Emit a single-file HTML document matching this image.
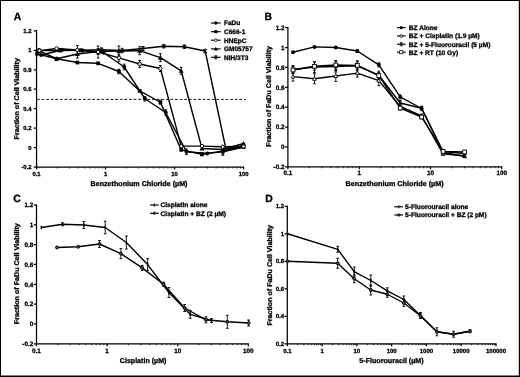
<!DOCTYPE html>
<html><head><meta charset="utf-8"><title>Figure</title>
<style>html,body{margin:0;padding:0;background:#fff}svg{display:block}</style>
</head><body>
<svg width="520" height="377" viewBox="0 0 520 377" font-family="Liberation Sans, Arial, Helvetica, sans-serif" font-weight="bold" fill="#000" text-rendering="geometricPrecision">
<rect x="0" y="0" width="520" height="377" fill="#fff"/>
<path d="M0 0H520V377H0Z M1 1V375.6H518.8V1Z" fill="#000" fill-rule="evenodd"/>
<text x="13.70" y="20.30" font-size="10.4" text-anchor="start" stroke="#000" stroke-width="0.3">A</text>
<text x="264.60" y="20.10" font-size="10.4" text-anchor="start" stroke="#000" stroke-width="0.3">B</text>
<text x="13.20" y="201.80" font-size="10.4" text-anchor="start" stroke="#000" stroke-width="0.3">C</text>
<text x="265.20" y="201.90" font-size="10.4" text-anchor="start" stroke="#000" stroke-width="0.3">D</text>
<path d="M36.55 30.34V167.06H244.05" fill="none" stroke="#000" stroke-width="1.25"/>
<path d="M33.75 30.84H36.55M33.75 50.30H36.55M33.75 69.76H36.55M33.75 89.22H36.55M33.75 108.68H36.55M33.75 128.14H36.55M33.75 147.60H36.55M33.75 167.06H36.55M36.55 167.06V169.56M105.55 167.06V169.56M174.55 167.06V169.56M243.55 167.06V169.56" fill="none" stroke="#000" stroke-width="1.25"/>
<path d="M57.32 167.06V168.56M69.47 167.06V168.56M78.09 167.06V168.56M84.78 167.06V168.56M90.24 167.06V168.56M94.86 167.06V168.56M98.86 167.06V168.56M102.39 167.06V168.56M126.32 167.06V168.56M138.47 167.06V168.56M147.09 167.06V168.56M153.78 167.06V168.56M159.24 167.06V168.56M163.86 167.06V168.56M167.86 167.06V168.56M171.39 167.06V168.56M195.32 167.06V168.56M207.47 167.06V168.56M216.09 167.06V168.56M222.78 167.06V168.56M228.24 167.06V168.56M232.86 167.06V168.56M236.86 167.06V168.56M240.39 167.06V168.56" fill="none" stroke="#000" stroke-width="0.8"/>
<text x="31.55" y="32.95" font-size="5.9" text-anchor="end" stroke="#000" stroke-width="0.3">1.2</text>
<text x="31.55" y="52.41" font-size="5.9" text-anchor="end" stroke="#000" stroke-width="0.3">1</text>
<text x="31.55" y="71.87" font-size="5.9" text-anchor="end" stroke="#000" stroke-width="0.3">0.8</text>
<text x="31.55" y="91.33" font-size="5.9" text-anchor="end" stroke="#000" stroke-width="0.3">0.6</text>
<text x="31.55" y="110.79" font-size="5.9" text-anchor="end" stroke="#000" stroke-width="0.3">0.4</text>
<text x="31.55" y="130.25" font-size="5.9" text-anchor="end" stroke="#000" stroke-width="0.3">0.2</text>
<text x="31.55" y="149.71" font-size="5.9" text-anchor="end" stroke="#000" stroke-width="0.3">0</text>
<text x="31.55" y="169.17" font-size="5.9" text-anchor="end" stroke="#000" stroke-width="0.3">-0.2</text>
<text x="36.55" y="176.20" font-size="5.9" text-anchor="middle" stroke="#000" stroke-width="0.3">0.1</text>
<text x="105.55" y="176.20" font-size="5.9" text-anchor="middle" stroke="#000" stroke-width="0.3">1</text>
<text x="174.55" y="176.20" font-size="5.9" text-anchor="middle" stroke="#000" stroke-width="0.3">10</text>
<text x="243.55" y="176.20" font-size="5.9" text-anchor="middle" stroke="#000" stroke-width="0.3">100</text>
<path d="M37 99.4H246" stroke="#000" stroke-width="0.9" stroke-dasharray="2.8 1.8" fill="none"/>
<text x="19.00" y="139.40" font-size="6.9" text-anchor="start" stroke="#000" stroke-width="0.3" textLength="81.30" lengthAdjust="spacingAndGlyphs" transform="rotate(-90 19.00 139.40)">Fraction of Cell Viability</text>
<text x="90.50" y="185.80" font-size="7.1" text-anchor="start" stroke="#000" stroke-width="0.3" textLength="97.00" lengthAdjust="spacingAndGlyphs">Benzethonium Chloride (µM)</text>
<path d="M37.00 53.75L56.60 58.75L77.40 62.50L98.10 63.30L118.90 71.50L139.70 90.90L160.40 102.25L181.20 149.90L202.00 154.25L222.70 151.10L243.50 147.00" fill="none" stroke="#000" stroke-width="1.4" stroke-linejoin="round"/>
<path d="M118.90 69.30V73.70M117.50 69.30H120.30M117.50 73.70H120.30" stroke="#000" stroke-width="0.9" fill="none"/>
<path d="M160.40 100.25V104.25M159.00 100.25H161.80M159.00 104.25H161.80" stroke="#000" stroke-width="0.9" fill="none"/>
<path d="M202.00 152.75V155.75M200.60 152.75H203.40M200.60 155.75H203.40" stroke="#000" stroke-width="0.9" fill="none"/>
<path d="M222.70 148.10V154.10M221.30 148.10H224.10M221.30 154.10H224.10" stroke="#000" stroke-width="0.9" fill="none"/>
<rect x="35.15" y="51.90" width="3.7" height="3.7"/>
<rect x="54.75" y="56.90" width="3.7" height="3.7"/>
<rect x="75.55" y="60.65" width="3.7" height="3.7"/>
<rect x="96.25" y="61.45" width="3.7" height="3.7"/>
<rect x="117.05" y="69.65" width="3.7" height="3.7"/>
<rect x="137.85" y="89.05" width="3.7" height="3.7"/>
<rect x="158.55" y="100.40" width="3.7" height="3.7"/>
<rect x="179.35" y="148.05" width="3.7" height="3.7"/>
<rect x="200.15" y="152.40" width="3.7" height="3.7"/>
<rect x="220.85" y="149.25" width="3.7" height="3.7"/>
<rect x="241.65" y="145.15" width="3.7" height="3.7"/>
<path d="M41.10 55.00L61.90 50.00L82.60 50.60L103.40 52.50L124.20 67.00L144.90 98.75L165.70 112.50L186.50 151.75L207.25 153.40L222.90 151.80L243.50 147.00" fill="none" stroke="#000" stroke-width="1.4" stroke-linejoin="round"/>
<path d="M124.20 64.20V69.80M122.80 64.20H125.60M122.80 69.80H125.60" stroke="#000" stroke-width="0.9" fill="none"/>
<path d="M144.90 96.55V100.95M143.50 96.55H146.30M143.50 100.95H146.30" stroke="#000" stroke-width="0.9" fill="none"/>
<path d="M165.70 109.70V115.30M164.30 109.70H167.10M164.30 115.30H167.10" stroke="#000" stroke-width="0.9" fill="none"/>
<path d="M186.50 148.95V154.55M185.10 148.95H187.90M185.10 154.55H187.90" stroke="#000" stroke-width="0.9" fill="none"/>
<path d="M222.90 148.30V155.30M221.50 148.30H224.30M221.50 155.30H224.30" stroke="#000" stroke-width="0.9" fill="none"/>
<circle cx="41.10" cy="55.00" r="2.0"/>
<circle cx="61.90" cy="50.00" r="2.0"/>
<circle cx="82.60" cy="50.60" r="2.0"/>
<circle cx="103.40" cy="52.50" r="2.0"/>
<circle cx="124.20" cy="67.00" r="2.0"/>
<circle cx="144.90" cy="98.75" r="2.0"/>
<circle cx="165.70" cy="112.50" r="2.0"/>
<circle cx="186.50" cy="151.75" r="2.0"/>
<circle cx="207.25" cy="153.40" r="2.0"/>
<circle cx="222.90" cy="151.80" r="2.0"/>
<circle cx="243.50" cy="147.00" r="2.0"/>
<path d="M38.60 50.60L56.60 58.75L77.40 54.00L98.10 51.50L118.90 51.00L139.70 50.70L160.40 57.70L181.20 70.80L202.00 148.50L222.70 149.50L243.50 143.50" fill="none" stroke="#000" stroke-width="1.4" stroke-linejoin="round"/>
<path d="M77.40 50.00V58.00M76.00 50.00H78.80M76.00 58.00H78.80" stroke="#000" stroke-width="0.9" fill="none"/>
<path d="M98.10 48.50V54.50M96.70 48.50H99.50M96.70 54.50H99.50" stroke="#000" stroke-width="0.9" fill="none"/>
<path d="M118.90 46.00V56.00M117.50 46.00H120.30M117.50 56.00H120.30" stroke="#000" stroke-width="0.9" fill="none"/>
<path d="M139.70 46.70V54.70M138.30 46.70H141.10M138.30 54.70H141.10" stroke="#000" stroke-width="0.9" fill="none"/>
<path d="M160.40 53.70V61.70M159.00 53.70H161.80M159.00 61.70H161.80" stroke="#000" stroke-width="0.9" fill="none"/>
<path d="M181.20 67.30V74.30M179.80 67.30H182.60M179.80 74.30H182.60" stroke="#000" stroke-width="0.9" fill="none"/>
<path d="M38.60 48.00L41.07 52.55L36.13 52.55Z"/>
<path d="M56.60 56.15L59.07 60.70L54.13 60.70Z"/>
<path d="M77.40 51.40L79.87 55.95L74.93 55.95Z"/>
<path d="M98.10 48.90L100.57 53.45L95.63 53.45Z"/>
<path d="M118.90 48.40L121.37 52.95L116.43 52.95Z"/>
<path d="M139.70 48.10L142.17 52.65L137.23 52.65Z"/>
<path d="M160.40 55.10L162.87 59.65L157.93 59.65Z"/>
<path d="M181.20 68.20L183.67 72.75L178.73 72.75Z"/>
<path d="M202.00 145.90L204.47 150.45L199.53 150.45Z"/>
<path d="M222.70 146.90L225.17 151.45L220.23 151.45Z"/>
<path d="M243.50 140.90L245.97 145.45L241.03 145.45Z"/>
<path d="M39.10 50.60L59.90 50.50L80.60 50.30L101.40 49.80L122.20 50.50L142.90 48.50L163.70 46.20L184.50 46.70L205.20 51.00L226.00 149.50L243.50 145.50" fill="none" stroke="#000" stroke-width="1.4" stroke-linejoin="round"/>
<path d="M39.10 48.60V52.60M37.70 48.60H40.50M37.70 52.60H40.50" stroke="#000" stroke-width="0.9" fill="none"/>
<path d="M59.90 49.00V52.00M58.50 49.00H61.30M58.50 52.00H61.30" stroke="#000" stroke-width="0.9" fill="none"/>
<path d="M80.60 48.80V51.80M79.20 48.80H82.00M79.20 51.80H82.00" stroke="#000" stroke-width="0.9" fill="none"/>
<path d="M101.40 47.80V51.80M100.00 47.80H102.80M100.00 51.80H102.80" stroke="#000" stroke-width="0.9" fill="none"/>
<path d="M122.20 48.30V52.70M120.80 48.30H123.60M120.80 52.70H123.60" stroke="#000" stroke-width="0.9" fill="none"/>
<path d="M142.90 46.50V50.50M141.50 46.50H144.30M141.50 50.50H144.30" stroke="#000" stroke-width="0.9" fill="none"/>
<path d="M163.70 44.40V48.00M162.30 44.40H165.10M162.30 48.00H165.10" stroke="#000" stroke-width="0.9" fill="none"/>
<path d="M184.50 44.90V48.50M183.10 44.90H185.90M183.10 48.50H185.90" stroke="#000" stroke-width="0.9" fill="none"/>
<path d="M205.20 49.20V52.80M203.80 49.20H206.60M203.80 52.80H206.60" stroke="#000" stroke-width="0.9" fill="none"/>
<path d="M226.00 148.00V151.00M224.60 148.00H227.40M224.60 151.00H227.40" stroke="#000" stroke-width="0.9" fill="none"/>
<path d="M243.50 144.00V147.00M242.10 144.00H244.90M242.10 147.00H244.90" stroke="#000" stroke-width="0.9" fill="none"/>
<path d="M37.40 48.90L40.80 52.30M37.40 52.30L40.80 48.90" stroke="#000" stroke-width="1" fill="none"/>
<path d="M58.20 48.80L61.60 52.20M58.20 52.20L61.60 48.80" stroke="#000" stroke-width="1" fill="none"/>
<path d="M78.90 48.60L82.30 52.00M78.90 52.00L82.30 48.60" stroke="#000" stroke-width="1" fill="none"/>
<path d="M99.70 48.10L103.10 51.50M99.70 51.50L103.10 48.10" stroke="#000" stroke-width="1" fill="none"/>
<path d="M120.50 48.80L123.90 52.20M120.50 52.20L123.90 48.80" stroke="#000" stroke-width="1" fill="none"/>
<path d="M141.20 46.80L144.60 50.20M141.20 50.20L144.60 46.80" stroke="#000" stroke-width="1" fill="none"/>
<path d="M162.00 44.50L165.40 47.90M162.00 47.90L165.40 44.50" stroke="#000" stroke-width="1" fill="none"/>
<path d="M182.80 45.00L186.20 48.40M182.80 48.40L186.20 45.00" stroke="#000" stroke-width="1" fill="none"/>
<path d="M203.50 49.30L206.90 52.70M203.50 52.70L206.90 49.30" stroke="#000" stroke-width="1" fill="none"/>
<path d="M224.30 147.80L227.70 151.20M224.30 151.20L227.70 147.80" stroke="#000" stroke-width="1" fill="none"/>
<path d="M241.80 143.80L245.20 147.20M241.80 147.20L245.20 143.80" stroke="#000" stroke-width="1" fill="none"/>
<path d="M39.40 50.60L56.60 48.50L77.40 50.00L98.10 52.00L118.90 57.80L139.70 64.00L160.40 68.50L181.20 146.10L202.00 146.10L222.70 146.75L243.50 146.50" fill="none" stroke="#000" stroke-width="1.4" stroke-linejoin="round"/>
<path d="M77.40 45.50V54.50M76.00 45.50H78.80M76.00 54.50H78.80" stroke="#000" stroke-width="0.9" fill="none"/>
<path d="M98.10 46.00V58.00M96.70 46.00H99.50M96.70 58.00H99.50" stroke="#000" stroke-width="0.9" fill="none"/>
<path d="M118.90 54.30V61.30M117.50 54.30H120.30M117.50 61.30H120.30" stroke="#000" stroke-width="0.9" fill="none"/>
<path d="M139.70 60.50V67.50M138.30 60.50H141.10M138.30 67.50H141.10" stroke="#000" stroke-width="0.9" fill="none"/>
<path d="M160.40 65.50V71.50M159.00 65.50H161.80M159.00 71.50H161.80" stroke="#000" stroke-width="0.9" fill="none"/>
<circle cx="39.40" cy="50.60" r="1.7" fill="#fff" stroke="#000" stroke-width="1"/>
<circle cx="56.60" cy="48.50" r="1.7" fill="#fff" stroke="#000" stroke-width="1"/>
<circle cx="77.40" cy="50.00" r="1.7" fill="#fff" stroke="#000" stroke-width="1"/>
<circle cx="98.10" cy="52.00" r="1.7" fill="#fff" stroke="#000" stroke-width="1"/>
<circle cx="118.90" cy="57.80" r="1.7" fill="#fff" stroke="#000" stroke-width="1"/>
<circle cx="139.70" cy="64.00" r="1.7" fill="#fff" stroke="#000" stroke-width="1"/>
<circle cx="160.40" cy="68.50" r="1.7" fill="#fff" stroke="#000" stroke-width="1"/>
<circle cx="181.20" cy="146.10" r="1.7" fill="#fff" stroke="#000" stroke-width="1"/>
<circle cx="202.00" cy="146.10" r="1.7" fill="#fff" stroke="#000" stroke-width="1"/>
<circle cx="222.70" cy="146.75" r="1.7" fill="#fff" stroke="#000" stroke-width="1"/>
<circle cx="243.50" cy="146.50" r="1.7" fill="#fff" stroke="#000" stroke-width="1"/>
<path d="M211 23H220.7" stroke="#000" stroke-width="1.15"/>
<g transform="translate(215.8 23) scale(0.82) translate(-215.8 -23)">
<circle cx="215.80" cy="23.00" r="2.0"/>
</g>
<text x="224.00" y="25.40" font-size="6.6" text-anchor="start" stroke="#000" stroke-width="0.3" textLength="16.25" lengthAdjust="spacingAndGlyphs">FaDu</text>
<path d="M211 31.7H220.7" stroke="#000" stroke-width="1.15"/>
<g transform="translate(215.8 31.7) scale(0.82) translate(-215.8 -31.7)">
<rect x="213.95" y="29.85" width="3.7" height="3.7"/>
</g>
<text x="224.00" y="34.10" font-size="6.6" text-anchor="start" stroke="#000" stroke-width="0.3" textLength="21.30" lengthAdjust="spacingAndGlyphs">C666-1</text>
<path d="M211 40.2H220.7" stroke="#000" stroke-width="1.15"/>
<g transform="translate(215.8 40.2) scale(0.82) translate(-215.8 -40.2)">
<circle cx="215.80" cy="40.20" r="1.7" fill="#fff" stroke="#000" stroke-width="1"/>
</g>
<text x="224.00" y="42.60" font-size="6.6" text-anchor="start" stroke="#000" stroke-width="0.3" textLength="22.40" lengthAdjust="spacingAndGlyphs">HNEpC</text>
<path d="M211 48.9H220.7" stroke="#000" stroke-width="1.15"/>
<g transform="translate(215.8 48.9) scale(0.82) translate(-215.8 -48.9)">
<path d="M215.80 46.30L218.27 50.85L213.33 50.85Z"/>
</g>
<text x="224.00" y="51.30" font-size="6.6" text-anchor="start" stroke="#000" stroke-width="0.3" textLength="28.50" lengthAdjust="spacingAndGlyphs">GM05757</text>
<path d="M211 57.3H220.7" stroke="#000" stroke-width="1.15"/>
<g transform="translate(215.8 57.3) scale(0.82) translate(-215.8 -57.3)">
<path d="M215.80 55.30V59.30M214.40 55.30H217.20M214.40 59.30H217.20" stroke="#000" stroke-width="0.9" fill="none"/>
<path d="M214.10 55.60L217.50 59.00M214.10 59.00L217.50 55.60" stroke="#000" stroke-width="1" fill="none"/>
</g>
<text x="224.00" y="59.70" font-size="6.6" text-anchor="start" stroke="#000" stroke-width="0.3" textLength="24.30" lengthAdjust="spacingAndGlyphs">NIH/3T3</text>
<path d="M287.90 27.12V166.78H502.24" fill="none" stroke="#000" stroke-width="1.25"/>
<path d="M285.10 27.62H287.90M285.10 47.50H287.90M285.10 67.38H287.90M285.10 87.26H287.90M285.10 107.14H287.90M285.10 127.02H287.90M285.10 146.90H287.90M285.10 166.78H287.90M287.90 166.78V169.28M359.18 166.78V169.28M430.46 166.78V169.28M501.74 166.78V169.28" fill="none" stroke="#000" stroke-width="1.25"/>
<path d="M309.36 166.78V168.28M321.91 166.78V168.28M330.81 166.78V168.28M337.72 166.78V168.28M343.37 166.78V168.28M348.14 166.78V168.28M352.27 166.78V168.28M355.92 166.78V168.28M380.64 166.78V168.28M393.19 166.78V168.28M402.09 166.78V168.28M409.00 166.78V168.28M414.65 166.78V168.28M419.42 166.78V168.28M423.55 166.78V168.28M427.20 166.78V168.28M451.92 166.78V168.28M464.47 166.78V168.28M473.37 166.78V168.28M480.28 166.78V168.28M485.93 166.78V168.28M490.70 166.78V168.28M494.83 166.78V168.28M498.48 166.78V168.28" fill="none" stroke="#000" stroke-width="0.8"/>
<text x="284.40" y="29.88" font-size="6.3" text-anchor="end" stroke="#000" stroke-width="0.3">1.2</text>
<text x="284.40" y="49.76" font-size="6.3" text-anchor="end" stroke="#000" stroke-width="0.3">1</text>
<text x="284.40" y="69.64" font-size="6.3" text-anchor="end" stroke="#000" stroke-width="0.3">0.8</text>
<text x="284.40" y="89.52" font-size="6.3" text-anchor="end" stroke="#000" stroke-width="0.3">0.6</text>
<text x="284.40" y="109.40" font-size="6.3" text-anchor="end" stroke="#000" stroke-width="0.3">0.4</text>
<text x="284.40" y="129.28" font-size="6.3" text-anchor="end" stroke="#000" stroke-width="0.3">0.2</text>
<text x="284.40" y="149.16" font-size="6.3" text-anchor="end" stroke="#000" stroke-width="0.3">0</text>
<text x="284.40" y="169.04" font-size="6.3" text-anchor="end" stroke="#000" stroke-width="0.3">-0.2</text>
<text x="287.90" y="175.40" font-size="6.3" text-anchor="middle" stroke="#000" stroke-width="0.3">0.1</text>
<text x="359.18" y="175.40" font-size="6.3" text-anchor="middle" stroke="#000" stroke-width="0.3">1</text>
<text x="430.46" y="175.40" font-size="6.3" text-anchor="middle" stroke="#000" stroke-width="0.3">10</text>
<text x="501.74" y="175.40" font-size="6.3" text-anchor="middle" stroke="#000" stroke-width="0.3">100</text>
<text x="271.40" y="146.70" font-size="6.9" text-anchor="start" stroke="#000" stroke-width="0.3" textLength="100.70" lengthAdjust="spacingAndGlyphs" transform="rotate(-90 271.40 146.70)">Fraction of FaDu Cell Viability</text>
<text x="345.50" y="185.70" font-size="7.1" text-anchor="start" stroke="#000" stroke-width="0.3" textLength="98.20" lengthAdjust="spacingAndGlyphs">Benzethonium Chloride (µM)</text>
<path d="M293.00 52.30L314.50 46.90L335.80 47.50L357.30 51.00L378.80 64.80L400.20 96.90L421.60 108.50L443.10 151.50L464.60 153.50" fill="none" stroke="#000" stroke-width="1.4" stroke-linejoin="round"/>
<path d="M357.30 49.50V52.50M355.90 49.50H358.70M355.90 52.50H358.70" stroke="#000" stroke-width="0.9" fill="none"/>
<path d="M378.80 62.80V66.80M377.40 62.80H380.20M377.40 66.80H380.20" stroke="#000" stroke-width="0.9" fill="none"/>
<path d="M400.20 94.90V98.90M398.80 94.90H401.60M398.80 98.90H401.60" stroke="#000" stroke-width="0.9" fill="none"/>
<path d="M421.60 107.00V110.00M420.20 107.00H423.00M420.20 110.00H423.00" stroke="#000" stroke-width="0.9" fill="none"/>
<path d="M443.10 150.00V153.00M441.70 150.00H444.50M441.70 153.00H444.50" stroke="#000" stroke-width="0.9" fill="none"/>
<path d="M464.60 152.00V155.00M463.20 152.00H466.00M463.20 155.00H466.00" stroke="#000" stroke-width="0.9" fill="none"/>
<circle cx="293.00" cy="52.30" r="2.0"/>
<circle cx="314.50" cy="46.90" r="2.0"/>
<circle cx="335.80" cy="47.50" r="2.0"/>
<circle cx="357.30" cy="51.00" r="2.0"/>
<circle cx="378.80" cy="64.80" r="2.0"/>
<circle cx="400.20" cy="96.90" r="2.0"/>
<circle cx="421.60" cy="108.50" r="2.0"/>
<circle cx="443.10" cy="151.50" r="2.0"/>
<circle cx="464.60" cy="153.50" r="2.0"/>
<path d="M293.00 76.60L314.50 78.80L335.80 76.00L357.30 73.10L378.80 80.60L400.20 106.50L421.60 116.00L443.10 153.80L464.60 156.00" fill="none" stroke="#000" stroke-width="1.4" stroke-linejoin="round"/>
<path d="M293.00 72.10V81.10M291.60 72.10H294.40M291.60 81.10H294.40" stroke="#000" stroke-width="0.9" fill="none"/>
<path d="M314.50 73.80V83.80M313.10 73.80H315.90M313.10 83.80H315.90" stroke="#000" stroke-width="0.9" fill="none"/>
<path d="M335.80 70.50V81.50M334.40 70.50H337.20M334.40 81.50H337.20" stroke="#000" stroke-width="0.9" fill="none"/>
<path d="M357.30 69.10V77.10M355.90 69.10H358.70M355.90 77.10H358.70" stroke="#000" stroke-width="0.9" fill="none"/>
<path d="M378.80 75.60V85.60M377.40 75.60H380.20M377.40 85.60H380.20" stroke="#000" stroke-width="0.9" fill="none"/>
<path d="M400.20 104.00V109.00M398.80 104.00H401.60M398.80 109.00H401.60" stroke="#000" stroke-width="0.9" fill="none"/>
<path d="M421.60 114.00V118.00M420.20 114.00H423.00M420.20 118.00H423.00" stroke="#000" stroke-width="0.9" fill="none"/>
<path d="M443.10 152.30V155.30M441.70 152.30H444.50M441.70 155.30H444.50" stroke="#000" stroke-width="0.9" fill="none"/>
<path d="M464.60 154.50V157.50M463.20 154.50H466.00M463.20 157.50H466.00" stroke="#000" stroke-width="0.9" fill="none"/>
<path d="M293.00 74.60L294.90 78.10L291.10 78.10Z" fill="#fff" stroke="#000" stroke-width="0.8"/>
<path d="M314.50 76.80L316.40 80.30L312.60 80.30Z" fill="#fff" stroke="#000" stroke-width="0.8"/>
<path d="M335.80 74.00L337.70 77.50L333.90 77.50Z" fill="#fff" stroke="#000" stroke-width="0.8"/>
<path d="M357.30 71.10L359.20 74.60L355.40 74.60Z" fill="#fff" stroke="#000" stroke-width="0.8"/>
<path d="M378.80 78.60L380.70 82.10L376.90 82.10Z" fill="#fff" stroke="#000" stroke-width="0.8"/>
<path d="M400.20 104.50L402.10 108.00L398.30 108.00Z" fill="#fff" stroke="#000" stroke-width="0.8"/>
<path d="M421.60 114.00L423.50 117.50L419.70 117.50Z" fill="#fff" stroke="#000" stroke-width="0.8"/>
<path d="M443.10 151.80L445.00 155.30L441.20 155.30Z" fill="#fff" stroke="#000" stroke-width="0.8"/>
<path d="M464.60 154.00L466.50 157.50L462.70 157.50Z" fill="#fff" stroke="#000" stroke-width="0.8"/>
<path d="M293.00 69.50L314.50 67.00L335.80 66.50L357.30 65.80L378.80 75.20L400.20 103.00L421.60 108.20L443.10 152.50L464.60 156.20" fill="none" stroke="#000" stroke-width="1.4" stroke-linejoin="round"/>
<path d="M293.00 65.50V73.50M291.60 65.50H294.40M291.60 73.50H294.40" stroke="#000" stroke-width="0.9" fill="none"/>
<path d="M314.50 61.50V72.50M313.10 61.50H315.90M313.10 72.50H315.90" stroke="#000" stroke-width="0.9" fill="none"/>
<path d="M335.80 61.00V72.00M334.40 61.00H337.20M334.40 72.00H337.20" stroke="#000" stroke-width="0.9" fill="none"/>
<path d="M357.30 60.80V70.80M355.90 60.80H358.70M355.90 70.80H358.70" stroke="#000" stroke-width="0.9" fill="none"/>
<path d="M378.80 71.20V79.20M377.40 71.20H380.20M377.40 79.20H380.20" stroke="#000" stroke-width="0.9" fill="none"/>
<path d="M400.20 100.50V105.50M398.80 100.50H401.60M398.80 105.50H401.60" stroke="#000" stroke-width="0.9" fill="none"/>
<path d="M421.60 106.20V110.20M420.20 106.20H423.00M420.20 110.20H423.00" stroke="#000" stroke-width="0.9" fill="none"/>
<path d="M443.10 151.00V154.00M441.70 151.00H444.50M441.70 154.00H444.50" stroke="#000" stroke-width="0.9" fill="none"/>
<path d="M464.60 154.70V157.70M463.20 154.70H466.00M463.20 157.70H466.00" stroke="#000" stroke-width="0.9" fill="none"/>
<path d="M291.30 67.80L294.70 71.20M291.30 71.20L294.70 67.80" stroke="#000" stroke-width="1" fill="none"/>
<path d="M312.80 65.30L316.20 68.70M312.80 68.70L316.20 65.30" stroke="#000" stroke-width="1" fill="none"/>
<path d="M334.10 64.80L337.50 68.20M334.10 68.20L337.50 64.80" stroke="#000" stroke-width="1" fill="none"/>
<path d="M355.60 64.10L359.00 67.50M355.60 67.50L359.00 64.10" stroke="#000" stroke-width="1" fill="none"/>
<path d="M377.10 73.50L380.50 76.90M377.10 76.90L380.50 73.50" stroke="#000" stroke-width="1" fill="none"/>
<path d="M398.50 101.30L401.90 104.70M398.50 104.70L401.90 101.30" stroke="#000" stroke-width="1" fill="none"/>
<path d="M419.90 106.50L423.30 109.90M419.90 109.90L423.30 106.50" stroke="#000" stroke-width="1" fill="none"/>
<path d="M441.40 150.80L444.80 154.20M441.40 154.20L444.80 150.80" stroke="#000" stroke-width="1" fill="none"/>
<path d="M462.90 154.50L466.30 157.90M462.90 157.90L466.30 154.50" stroke="#000" stroke-width="1" fill="none"/>
<path d="M293.00 70.00L314.50 66.30L335.80 65.00L357.30 65.40L378.80 75.60L400.20 108.10L421.60 117.00L443.10 151.40L464.60 152.00" fill="none" stroke="#000" stroke-width="1.4" stroke-linejoin="round"/>
<path d="M293.00 66.50V73.50M291.60 66.50H294.40M291.60 73.50H294.40" stroke="#000" stroke-width="0.9" fill="none"/>
<path d="M314.50 62.30V70.30M313.10 62.30H315.90M313.10 70.30H315.90" stroke="#000" stroke-width="0.9" fill="none"/>
<path d="M335.80 60.50V69.50M334.40 60.50H337.20M334.40 69.50H337.20" stroke="#000" stroke-width="0.9" fill="none"/>
<path d="M357.30 61.40V69.40M355.90 61.40H358.70M355.90 69.40H358.70" stroke="#000" stroke-width="0.9" fill="none"/>
<path d="M378.80 72.60V78.60M377.40 72.60H380.20M377.40 78.60H380.20" stroke="#000" stroke-width="0.9" fill="none"/>
<path d="M400.20 106.10V110.10M398.80 106.10H401.60M398.80 110.10H401.60" stroke="#000" stroke-width="0.9" fill="none"/>
<path d="M421.60 115.00V119.00M420.20 115.00H423.00M420.20 119.00H423.00" stroke="#000" stroke-width="0.9" fill="none"/>
<path d="M443.10 149.90V152.90M441.70 149.90H444.50M441.70 152.90H444.50" stroke="#000" stroke-width="0.9" fill="none"/>
<path d="M464.60 150.50V153.50M463.20 150.50H466.00M463.20 153.50H466.00" stroke="#000" stroke-width="0.9" fill="none"/>
<rect x="291.10" y="68.10" width="3.8" height="3.8" fill="#fff" stroke="#000" stroke-width="0.9"/>
<rect x="312.60" y="64.40" width="3.8" height="3.8" fill="#fff" stroke="#000" stroke-width="0.9"/>
<rect x="333.90" y="63.10" width="3.8" height="3.8" fill="#fff" stroke="#000" stroke-width="0.9"/>
<rect x="355.40" y="63.50" width="3.8" height="3.8" fill="#fff" stroke="#000" stroke-width="0.9"/>
<rect x="376.90" y="73.70" width="3.8" height="3.8" fill="#fff" stroke="#000" stroke-width="0.9"/>
<rect x="398.30" y="106.20" width="3.8" height="3.8" fill="#fff" stroke="#000" stroke-width="0.9"/>
<rect x="419.70" y="115.10" width="3.8" height="3.8" fill="#fff" stroke="#000" stroke-width="0.9"/>
<rect x="441.20" y="149.50" width="3.8" height="3.8" fill="#fff" stroke="#000" stroke-width="0.9"/>
<rect x="462.70" y="150.10" width="3.8" height="3.8" fill="#fff" stroke="#000" stroke-width="0.9"/>
<path d="M397 27.6H405.6" stroke="#000" stroke-width="1.15"/>
<g transform="translate(401.3 27.6) scale(0.82) translate(-401.3 -27.6)">
<circle cx="401.30" cy="27.60" r="2.0"/>
</g>
<text x="408.80" y="30.00" font-size="6.6" text-anchor="start" stroke="#000" stroke-width="0.3" textLength="28.70" lengthAdjust="spacingAndGlyphs">BZ Alone</text>
<path d="M397 35.9H405.6" stroke="#000" stroke-width="1.15"/>
<g transform="translate(401.3 35.9) scale(0.82) translate(-401.3 -35.9)">
<path d="M401.30 33.90L403.20 37.40L399.40 37.40Z" fill="#fff" stroke="#000" stroke-width="0.8"/>
</g>
<text x="408.80" y="38.30" font-size="6.6" text-anchor="start" stroke="#000" stroke-width="0.3" textLength="70.90" lengthAdjust="spacingAndGlyphs">BZ + Cisplatin (1.9 µM)</text>
<path d="M397 44.2H405.6" stroke="#000" stroke-width="1.15"/>
<g transform="translate(401.3 44.2) scale(0.82) translate(-401.3 -44.2)">
<path d="M401.30 42.20V46.20M399.90 42.20H402.70M399.90 46.20H402.70" stroke="#000" stroke-width="0.9" fill="none"/>
<path d="M399.60 42.50L403.00 45.90M399.60 45.90L403.00 42.50" stroke="#000" stroke-width="1" fill="none"/>
</g>
<text x="408.80" y="46.60" font-size="6.6" text-anchor="start" stroke="#000" stroke-width="0.3" textLength="81.60" lengthAdjust="spacingAndGlyphs">BZ + 5-Fluorouracil (5 µM)</text>
<path d="M397 52.2H405.6" stroke="#000" stroke-width="1.15"/>
<g transform="translate(401.3 52.2) scale(0.82) translate(-401.3 -52.2)">
<rect x="399.40" y="50.30" width="3.8" height="3.8" fill="#fff" stroke="#000" stroke-width="0.9"/>
</g>
<text x="408.80" y="54.60" font-size="6.6" text-anchor="start" stroke="#000" stroke-width="0.3" textLength="49.30" lengthAdjust="spacingAndGlyphs">BZ + RT (10 Gy)</text>
<path d="M36.50 204.51V343.75H248.80" fill="none" stroke="#000" stroke-width="1.25"/>
<path d="M33.70 205.01H36.50M33.70 224.83H36.50M33.70 244.65H36.50M33.70 264.47H36.50M33.70 284.29H36.50M33.70 304.11H36.50M33.70 323.93H36.50M33.70 343.75H36.50M36.50 343.75V346.25M107.10 343.75V346.25M177.70 343.75V346.25M248.30 343.75V346.25" fill="none" stroke="#000" stroke-width="1.25"/>
<path d="M57.75 343.75V345.25M70.18 343.75V345.25M79.01 343.75V345.25M85.85 343.75V345.25M91.44 343.75V345.25M96.16 343.75V345.25M100.26 343.75V345.25M103.87 343.75V345.25M128.35 343.75V345.25M140.78 343.75V345.25M149.61 343.75V345.25M156.45 343.75V345.25M162.04 343.75V345.25M166.76 343.75V345.25M170.86 343.75V345.25M174.47 343.75V345.25M198.95 343.75V345.25M211.38 343.75V345.25M220.21 343.75V345.25M227.05 343.75V345.25M232.64 343.75V345.25M237.36 343.75V345.25M241.46 343.75V345.25M245.07 343.75V345.25" fill="none" stroke="#000" stroke-width="0.8"/>
<text x="33.20" y="207.27" font-size="6.3" text-anchor="end" stroke="#000" stroke-width="0.3">1.2</text>
<text x="33.20" y="227.09" font-size="6.3" text-anchor="end" stroke="#000" stroke-width="0.3">1</text>
<text x="33.20" y="246.91" font-size="6.3" text-anchor="end" stroke="#000" stroke-width="0.3">0.8</text>
<text x="33.20" y="266.73" font-size="6.3" text-anchor="end" stroke="#000" stroke-width="0.3">0.6</text>
<text x="33.20" y="286.55" font-size="6.3" text-anchor="end" stroke="#000" stroke-width="0.3">0.4</text>
<text x="33.20" y="306.37" font-size="6.3" text-anchor="end" stroke="#000" stroke-width="0.3">0.2</text>
<text x="33.20" y="326.19" font-size="6.3" text-anchor="end" stroke="#000" stroke-width="0.3">0</text>
<text x="33.20" y="346.01" font-size="6.3" text-anchor="end" stroke="#000" stroke-width="0.3">-0.2</text>
<text x="36.50" y="352.70" font-size="6.3" text-anchor="middle" stroke="#000" stroke-width="0.3">0.1</text>
<text x="107.10" y="352.70" font-size="6.3" text-anchor="middle" stroke="#000" stroke-width="0.3">1</text>
<text x="177.70" y="352.70" font-size="6.3" text-anchor="middle" stroke="#000" stroke-width="0.3">10</text>
<text x="248.30" y="352.70" font-size="6.3" text-anchor="middle" stroke="#000" stroke-width="0.3">100</text>
<text x="19.40" y="324.20" font-size="6.9" text-anchor="start" stroke="#000" stroke-width="0.3" textLength="101.00" lengthAdjust="spacingAndGlyphs" transform="rotate(-90 19.40 324.20)">Fraction of FaDu Cell Viability</text>
<text x="119.80" y="362.80" font-size="7.1" text-anchor="start" stroke="#000" stroke-width="0.3" textLength="46.60" lengthAdjust="spacingAndGlyphs">Cisplatin (µM)</text>
<path d="M41.25 227.50L62.50 224.30L83.80 225.00L105.20 227.50L126.40 242.50L147.60 264.60L168.90 292.50L190.20 314.30L211.50 320.50" fill="none" stroke="#000" stroke-width="1.4" stroke-linejoin="round"/>
<path d="M62.50 222.80V225.80M61.10 222.80H63.90M61.10 225.80H63.90" stroke="#000" stroke-width="0.9" fill="none"/>
<path d="M83.80 221.50V228.50M82.40 221.50H85.20M82.40 228.50H85.20" stroke="#000" stroke-width="0.9" fill="none"/>
<path d="M105.20 221.20V233.80M103.80 221.20H106.60M103.80 233.80H106.60" stroke="#000" stroke-width="0.9" fill="none"/>
<path d="M126.40 236.00V249.00M125.00 236.00H127.80M125.00 249.00H127.80" stroke="#000" stroke-width="0.9" fill="none"/>
<path d="M147.60 258.60V270.60M146.20 258.60H149.00M146.20 270.60H149.00" stroke="#000" stroke-width="0.9" fill="none"/>
<path d="M168.90 287.50V297.50M167.50 287.50H170.30M167.50 297.50H170.30" stroke="#000" stroke-width="0.9" fill="none"/>
<path d="M190.20 310.30V318.30M188.80 310.30H191.60M188.80 318.30H191.60" stroke="#000" stroke-width="0.9" fill="none"/>
<path d="M211.50 318.50V322.50M210.10 318.50H212.90M210.10 322.50H212.90" stroke="#000" stroke-width="0.9" fill="none"/>
<path d="M41.25 225.70V229.30" stroke="#000" stroke-width="1.3" fill="none"/>
<path d="M62.50 222.50V226.10" stroke="#000" stroke-width="1.3" fill="none"/>
<path d="M83.80 223.20V226.80" stroke="#000" stroke-width="1.3" fill="none"/>
<path d="M105.20 225.70V229.30" stroke="#000" stroke-width="1.3" fill="none"/>
<path d="M126.40 240.70V244.30" stroke="#000" stroke-width="1.3" fill="none"/>
<path d="M147.60 262.80V266.40" stroke="#000" stroke-width="1.3" fill="none"/>
<path d="M168.90 290.70V294.30" stroke="#000" stroke-width="1.3" fill="none"/>
<path d="M190.20 312.50V316.10" stroke="#000" stroke-width="1.3" fill="none"/>
<path d="M211.50 318.70V322.30" stroke="#000" stroke-width="1.3" fill="none"/>
<path d="M57.00 247.50L78.25 246.80L99.50 244.00L120.90 253.60L142.20 267.90L163.50 284.20L184.60 308.00L206.00 319.80L227.30 321.80L248.60 323.00" fill="none" stroke="#000" stroke-width="1.4" stroke-linejoin="round"/>
<path d="M99.50 240.50V247.50M98.10 240.50H100.90M98.10 247.50H100.90" stroke="#000" stroke-width="0.9" fill="none"/>
<path d="M120.90 248.60V258.60M119.50 248.60H122.30M119.50 258.60H122.30" stroke="#000" stroke-width="0.9" fill="none"/>
<path d="M142.20 265.40V270.40M140.80 265.40H143.60M140.80 270.40H143.60" stroke="#000" stroke-width="0.9" fill="none"/>
<path d="M163.50 282.20V286.20M162.10 282.20H164.90M162.10 286.20H164.90" stroke="#000" stroke-width="0.9" fill="none"/>
<path d="M184.60 304.50V311.50M183.20 304.50H186.00M183.20 311.50H186.00" stroke="#000" stroke-width="0.9" fill="none"/>
<path d="M206.00 316.80V322.80M204.60 316.80H207.40M204.60 322.80H207.40" stroke="#000" stroke-width="0.9" fill="none"/>
<path d="M227.30 315.30V328.30M225.90 315.30H228.70M225.90 328.30H228.70" stroke="#000" stroke-width="0.9" fill="none"/>
<path d="M248.60 320.00V326.00M247.20 320.00H250.00M247.20 326.00H250.00" stroke="#000" stroke-width="0.9" fill="none"/>
<circle cx="57.00" cy="247.50" r="1.45" fill="#555" stroke="#000" stroke-width="1"/>
<circle cx="78.25" cy="246.80" r="1.45" fill="#555" stroke="#000" stroke-width="1"/>
<circle cx="99.50" cy="244.00" r="1.45" fill="#555" stroke="#000" stroke-width="1"/>
<circle cx="120.90" cy="253.60" r="1.45" fill="#555" stroke="#000" stroke-width="1"/>
<circle cx="142.20" cy="267.90" r="1.45" fill="#555" stroke="#000" stroke-width="1"/>
<circle cx="163.50" cy="284.20" r="1.45" fill="#555" stroke="#000" stroke-width="1"/>
<circle cx="184.60" cy="308.00" r="1.45" fill="#555" stroke="#000" stroke-width="1"/>
<circle cx="206.00" cy="319.80" r="1.45" fill="#555" stroke="#000" stroke-width="1"/>
<circle cx="227.30" cy="321.80" r="1.45" fill="#555" stroke="#000" stroke-width="1"/>
<circle cx="248.60" cy="323.00" r="1.45" fill="#555" stroke="#000" stroke-width="1"/>
<path d="M150 205H158.8" stroke="#000" stroke-width="1.15"/>
<g transform="translate(154.3 205) scale(0.82) translate(-154.3 -205)">
<path d="M154.30 203.20V206.80" stroke="#000" stroke-width="1.3" fill="none"/>
</g>
<text x="160.50" y="207.40" font-size="6.6" text-anchor="start" stroke="#000" stroke-width="0.3" textLength="46.90" lengthAdjust="spacingAndGlyphs">Cisplatin alone</text>
<path d="M150 213.3H158.8" stroke="#000" stroke-width="1.15"/>
<g transform="translate(154.3 213.3) scale(0.82) translate(-154.3 -213.3)">
<circle cx="154.30" cy="213.30" r="1.45" fill="#555" stroke="#000" stroke-width="1"/>
</g>
<text x="160.50" y="215.70" font-size="6.6" text-anchor="start" stroke="#000" stroke-width="0.3" textLength="65.50" lengthAdjust="spacingAndGlyphs">Cisplatin + BZ (2 µM)</text>
<path d="M287.30 205.75V343.75H496.48" fill="none" stroke="#000" stroke-width="1.25"/>
<path d="M284.50 206.25H287.30M284.50 233.75H287.30M284.50 261.25H287.30M284.50 288.75H287.30M284.50 316.25H287.30M284.50 343.75H287.30M287.30 343.75V346.25M322.08 343.75V346.25M356.86 343.75V346.25M391.64 343.75V346.25M426.42 343.75V346.25M461.20 343.75V346.25M495.98 343.75V346.25" fill="none" stroke="#000" stroke-width="1.25"/>
<path d="M297.77 343.75V345.25M303.89 343.75V345.25M308.24 343.75V345.25M311.61 343.75V345.25M314.36 343.75V345.25M316.69 343.75V345.25M318.71 343.75V345.25M320.49 343.75V345.25M332.55 343.75V345.25M338.67 343.75V345.25M343.02 343.75V345.25M346.39 343.75V345.25M349.14 343.75V345.25M351.47 343.75V345.25M353.49 343.75V345.25M355.27 343.75V345.25M367.33 343.75V345.25M373.45 343.75V345.25M377.80 343.75V345.25M381.17 343.75V345.25M383.92 343.75V345.25M386.25 343.75V345.25M388.27 343.75V345.25M390.05 343.75V345.25M402.11 343.75V345.25M408.23 343.75V345.25M412.58 343.75V345.25M415.95 343.75V345.25M418.70 343.75V345.25M421.03 343.75V345.25M423.05 343.75V345.25M424.83 343.75V345.25M436.89 343.75V345.25M443.01 343.75V345.25M447.36 343.75V345.25M450.73 343.75V345.25M453.48 343.75V345.25M455.81 343.75V345.25M457.83 343.75V345.25M459.61 343.75V345.25M471.67 343.75V345.25M477.79 343.75V345.25M482.14 343.75V345.25M485.51 343.75V345.25M488.26 343.75V345.25M490.59 343.75V345.25M492.61 343.75V345.25M494.39 343.75V345.25" fill="none" stroke="#000" stroke-width="0.8"/>
<text x="284.10" y="208.40" font-size="6.0" text-anchor="end" stroke="#000" stroke-width="0.3">1.2</text>
<text x="284.10" y="235.90" font-size="6.0" text-anchor="end" stroke="#000" stroke-width="0.3">1</text>
<text x="284.10" y="263.40" font-size="6.0" text-anchor="end" stroke="#000" stroke-width="0.3">0.8</text>
<text x="284.10" y="290.90" font-size="6.0" text-anchor="end" stroke="#000" stroke-width="0.3">0.6</text>
<text x="284.10" y="318.40" font-size="6.0" text-anchor="end" stroke="#000" stroke-width="0.3">0.4</text>
<text x="284.10" y="345.90" font-size="6.0" text-anchor="end" stroke="#000" stroke-width="0.3">0.2</text>
<text x="287.30" y="352.90" font-size="6.0" text-anchor="middle" stroke="#000" stroke-width="0.3">0.1</text>
<text x="322.08" y="352.90" font-size="6.0" text-anchor="middle" stroke="#000" stroke-width="0.3">1</text>
<text x="356.86" y="352.90" font-size="6.0" text-anchor="middle" stroke="#000" stroke-width="0.3">10</text>
<text x="391.64" y="352.90" font-size="6.0" text-anchor="middle" stroke="#000" stroke-width="0.3">100</text>
<text x="426.42" y="352.90" font-size="6.0" text-anchor="middle" stroke="#000" stroke-width="0.3">1000</text>
<text x="461.20" y="352.90" font-size="6.0" text-anchor="middle" stroke="#000" stroke-width="0.3">10000</text>
<text x="495.98" y="352.90" font-size="6.0" text-anchor="middle" stroke="#000" stroke-width="0.3">100000</text>
<text x="271.70" y="325.50" font-size="6.9" text-anchor="start" stroke="#000" stroke-width="0.3" textLength="100.50" lengthAdjust="spacingAndGlyphs" transform="rotate(-90 271.70 325.50)">Fraction of FaDu Cell Viability</text>
<text x="359.30" y="362.80" font-size="7.1" text-anchor="start" stroke="#000" stroke-width="0.3" textLength="64.40" lengthAdjust="spacingAndGlyphs">5-Fluorouracil (µM)</text>
<path d="M287.50 233.75L337.70 249.30L354.20 271.60L370.80 280.50L387.30 290.80L403.80 299.50L420.40 315.50L436.90 331.75L453.50 334.25L470.00 331.25" fill="none" stroke="#000" stroke-width="1.4" stroke-linejoin="round"/>
<path d="M337.70 246.30V252.30M336.30 246.30H339.10M336.30 252.30H339.10" stroke="#000" stroke-width="0.9" fill="none"/>
<path d="M354.20 267.10V276.10M352.80 267.10H355.60M352.80 276.10H355.60" stroke="#000" stroke-width="0.9" fill="none"/>
<path d="M370.80 275.00V286.00M369.40 275.00H372.20M369.40 286.00H372.20" stroke="#000" stroke-width="0.9" fill="none"/>
<path d="M387.30 287.80V293.80M385.90 287.80H388.70M385.90 293.80H388.70" stroke="#000" stroke-width="0.9" fill="none"/>
<path d="M403.80 296.00V303.00M402.40 296.00H405.20M402.40 303.00H405.20" stroke="#000" stroke-width="0.9" fill="none"/>
<path d="M420.40 312.50V318.50M419.00 312.50H421.80M419.00 318.50H421.80" stroke="#000" stroke-width="0.9" fill="none"/>
<path d="M436.90 327.75V335.75M435.50 327.75H438.30M435.50 335.75H438.30" stroke="#000" stroke-width="0.9" fill="none"/>
<path d="M453.50 331.25V337.25M452.10 331.25H454.90M452.10 337.25H454.90" stroke="#000" stroke-width="0.9" fill="none"/>
<path d="M470.00 329.75V332.75M468.60 329.75H471.40M468.60 332.75H471.40" stroke="#000" stroke-width="0.9" fill="none"/>
<path d="M287.50 231.95V235.55" stroke="#000" stroke-width="1.3" fill="none"/>
<path d="M337.70 247.50V251.10" stroke="#000" stroke-width="1.3" fill="none"/>
<path d="M354.20 269.80V273.40" stroke="#000" stroke-width="1.3" fill="none"/>
<path d="M370.80 278.70V282.30" stroke="#000" stroke-width="1.3" fill="none"/>
<path d="M387.30 289.00V292.60" stroke="#000" stroke-width="1.3" fill="none"/>
<path d="M403.80 297.70V301.30" stroke="#000" stroke-width="1.3" fill="none"/>
<path d="M420.40 313.70V317.30" stroke="#000" stroke-width="1.3" fill="none"/>
<path d="M436.90 329.95V333.55" stroke="#000" stroke-width="1.3" fill="none"/>
<path d="M453.50 332.45V336.05" stroke="#000" stroke-width="1.3" fill="none"/>
<path d="M470.00 329.45V333.05" stroke="#000" stroke-width="1.3" fill="none"/>
<path d="M287.50 261.25L337.70 263.25L354.20 278.75L370.80 290.00L387.30 294.25L403.80 303.00L420.40 315.80L436.90 331.75L453.50 334.25L470.00 331.25" fill="none" stroke="#000" stroke-width="1.4" stroke-linejoin="round"/>
<path d="M337.70 258.25V268.25M336.30 258.25H339.10M336.30 268.25H339.10" stroke="#000" stroke-width="0.9" fill="none"/>
<path d="M354.20 274.75V282.75M352.80 274.75H355.60M352.80 282.75H355.60" stroke="#000" stroke-width="0.9" fill="none"/>
<path d="M370.80 285.00V295.00M369.40 285.00H372.20M369.40 295.00H372.20" stroke="#000" stroke-width="0.9" fill="none"/>
<path d="M387.30 291.25V297.25M385.90 291.25H388.70M385.90 297.25H388.70" stroke="#000" stroke-width="0.9" fill="none"/>
<path d="M403.80 299.50V306.50M402.40 299.50H405.20M402.40 306.50H405.20" stroke="#000" stroke-width="0.9" fill="none"/>
<path d="M420.40 313.30V318.30M419.00 313.30H421.80M419.00 318.30H421.80" stroke="#000" stroke-width="0.9" fill="none"/>
<circle cx="287.50" cy="261.25" r="1.45" fill="#555" stroke="#000" stroke-width="1"/>
<circle cx="337.70" cy="263.25" r="1.45" fill="#555" stroke="#000" stroke-width="1"/>
<circle cx="354.20" cy="278.75" r="1.45" fill="#555" stroke="#000" stroke-width="1"/>
<circle cx="370.80" cy="290.00" r="1.45" fill="#555" stroke="#000" stroke-width="1"/>
<circle cx="387.30" cy="294.25" r="1.45" fill="#555" stroke="#000" stroke-width="1"/>
<circle cx="403.80" cy="303.00" r="1.45" fill="#555" stroke="#000" stroke-width="1"/>
<circle cx="420.40" cy="315.80" r="1.45" fill="#555" stroke="#000" stroke-width="1"/>
<circle cx="436.90" cy="331.75" r="1.45" fill="#555" stroke="#000" stroke-width="1"/>
<circle cx="453.50" cy="334.25" r="1.45" fill="#555" stroke="#000" stroke-width="1"/>
<circle cx="470.00" cy="331.25" r="1.45" fill="#555" stroke="#000" stroke-width="1"/>
<path d="M394.3 206.8H403" stroke="#000" stroke-width="1.15"/>
<g transform="translate(398.8 206.8) scale(0.82) translate(-398.8 -206.8)">
<path d="M398.80 205.00V208.60" stroke="#000" stroke-width="1.3" fill="none"/>
</g>
<text x="405.10" y="209.20" font-size="6.6" text-anchor="start" stroke="#000" stroke-width="0.3" textLength="63.20" lengthAdjust="spacingAndGlyphs">5-Fluorouracil alone</text>
<path d="M394.3 215H403" stroke="#000" stroke-width="1.15"/>
<g transform="translate(398.8 215) scale(0.82) translate(-398.8 -215)">
<circle cx="398.80" cy="215.00" r="1.45" fill="#555" stroke="#000" stroke-width="1"/>
</g>
<text x="405.10" y="217.40" font-size="6.6" text-anchor="start" stroke="#000" stroke-width="0.3" textLength="81.50" lengthAdjust="spacingAndGlyphs">5-Fluorouracil + BZ (2 µM)</text>
</svg>
</body></html>
